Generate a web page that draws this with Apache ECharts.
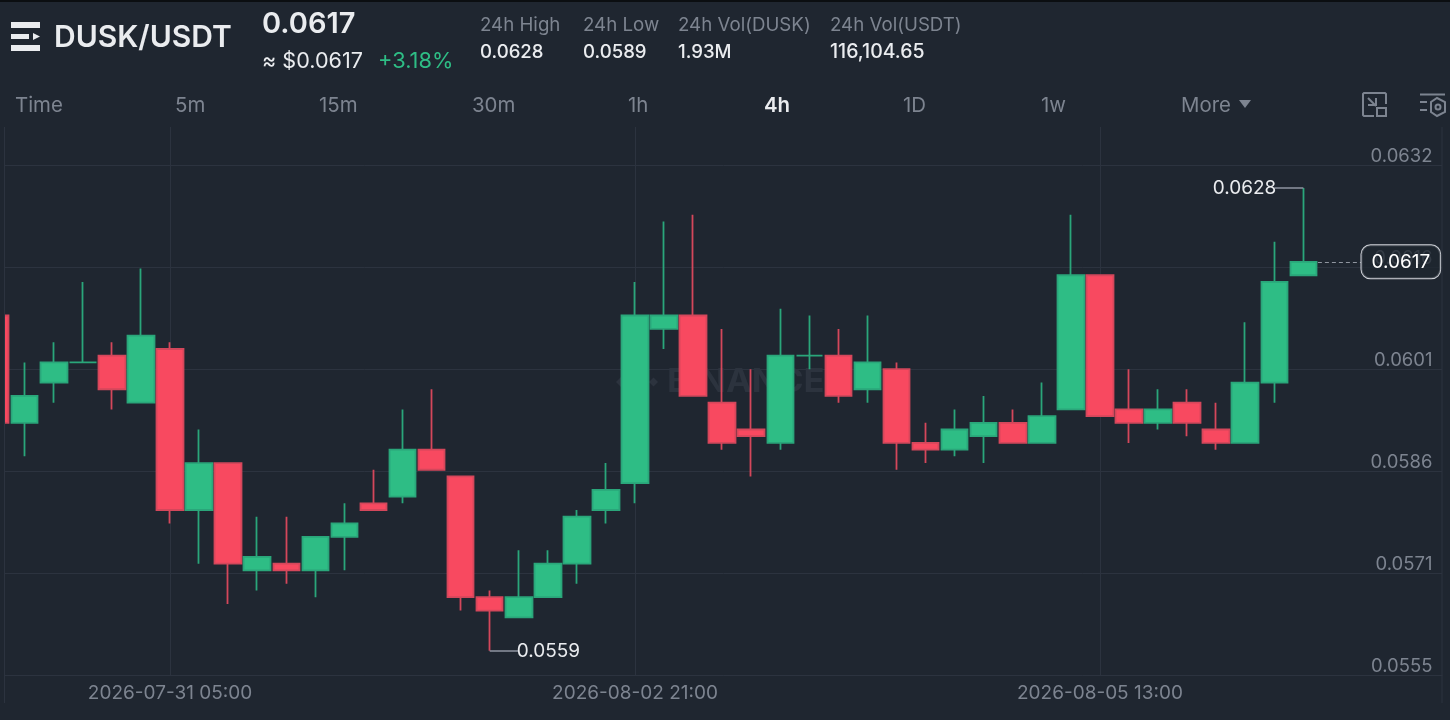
<!DOCTYPE html>
<html>
<head>
<meta charset="utf-8">
<style>html,body{margin:0;padding:0;background:#1f2630}#c{width:1450px;height:720px}</style>
<script src="https://cdn.jsdelivr.net/npm/echarts@6/dist/echarts.min.js"></script>
</head>
<body>
<div id="c"></div>
<script>
var opens  = [.0609,.0593,.0599,.0602,.0603,.0596,.0604,.0580,.0587,.0571,.0572,.0571,.0576,.0581,.0582,.0589,.0585,.0567,.0564,.0567,.0572,.0580,.0584,.0607,.0609,.0596,.0592,.0590,.0603,.0603,.0598,.0601,.0590,.0589,.0591,.0593,.0590,.0595,.0615,.0595,.0593,.0596,.0592,.0590,.0599,.0615];
var closes = [.0593,.0597,.0602,.0602,.0598,.0606,.0580,.0587,.0572,.0573,.0571,.0576,.0578,.0580,.0589,.0586,.0567,.0565,.0567,.0572,.0579,.0583,.0609,.0609,.0597,.0590,.0591,.0603,.0603,.0597,.0602,.0590,.0589,.0592,.0593,.0590,.0594,.0615,.0594,.0593,.0595,.0593,.0590,.0599,.0614,.0617];
var lows   = [.0593,.0588,.0596,.0602,.0595,.0596,.0578,.0572,.0566,.0568,.0569,.0567,.0571,.0580,.0581,.0586,.0565,.0559,.0564,.0567,.0569,.0578,.0581,.0604,.0597,.0589,.0585,.0589,.0601,.0596,.0596,.0586,.0587,.0588,.0587,.0590,.0590,.0595,.0594,.0590,.0592,.0591,.0589,.0590,.0596,.0615];
var highs  = [.0609,.0602,.0605,.0614,.0605,.0616,.0605,.0592,.0587,.0579,.0579,.0576,.0581,.0586,.0595,.0598,.0585,.0568,.0574,.0574,.0580,.0587,.0614,.0623,.0624,.0607,.0601,.0610,.0609,.0607,.0609,.0602,.0593,.0595,.0597,.0595,.0599,.0624,.0615,.0601,.0598,.0598,.0596,.0608,.0620,.0628];
var yTickValues = [.05554,.05706,.05858,.0601,.06162,.06314];
var yTickLabels = ['0.0555','0.0571','0.0586','0.0601','0.0616','0.0632'];
var xTickTimes = ['2026-07-31T05:00','2026-08-02T21:00','2026-08-05T13:00'];
var lastPrice = 0.0617, highPrice = 0.0628, lowPrice = 0.0559;
var firstCandle = '2026-07-30T05:00';
var viewStart = '2026-07-30T06:17', viewEnd = '2026-08-07T12:05';
var tabs = ['Time','5m','15m','30m','1h','4h','1D','1w','More'];
var tabX = [15,175,319,472,628,764,903,1041,1181];
var statNames = ['24h High','24h Low','24h Vol(DUSK)','24h Vol(USDT)'];
var statValues = ['0.0628','0.0589','1.93M','116,104.65'];
var statX = [480,583,678,830];

var FONT = 'Inter, "Noto Sans", sans-serif';
var BG = '#1f2630', GRID = '#2c333f', GREY = '#7d8490', WHITE = '#eaecef', UP = '#2ebd85', DOWN = '#f84960', MARK = '#2c333e';
var H4 = 4 * 3600e3;
function ms(s){ return new Date(s).getTime(); }
var t0 = ms(firstCandle);
function T(i){ return t0 + i * H4; }
var candles = opens.map(function(o,i){ return [T(i), o, closes[i], lows[i], highs[i]]; });

function txt(x,y,t,size,fill,weight,align){
  return {type:'text',x:x,y:y,silent:true,style:{text:t,fontFamily:FONT,fontSize:size,fill:fill,fontWeight:weight||400,align:align||'left',verticalAlign:'middle'}};
}
function rect(x,y,w,h,fill,z){ return {type:'rect',silent:true,z:z||1,shape:{x:x,y:y,width:w,height:h},style:{fill:fill}}; }
function line(x1,y1,x2,y2,c,w){ return {type:'line',silent:true,shape:{x1:x1,y1:y1,x2:x2,y2:y2},style:{stroke:c,lineWidth:w||1}}; }
function poly(pts,fill,z){ return {type:'polygon',silent:true,z:z||1,shape:{points:pts},style:{fill:fill}}; }

var graphics = [
  rect(0,0,1450,2,'#0b0e11'),
  rect(11,22,29,6,WHITE), rect(11,34,18,5,WHITE), poly([[33,33],[40,36.5],[33,40]],WHITE), rect(11,45,29,6,WHITE),
  txt(54,38,'DUSK/USDT',30,WHITE,600),
  txt(262,24,'0.0617',29,WHITE,600),
  txt(262,61,'≈ $0.0617',21.6,WHITE,400),
  txt(378,61,'+3.18%',21.8,UP,400),
  rect(0,127,4,548,BG,10),
  poly([[1239,100],[1251,100],[1245,108]],GREY)
];
statNames.forEach(function(n,i){
  graphics.push(txt(statX[i],25,n,18.7,GREY,400));
  graphics.push(txt(statX[i],52.5,statValues[i],i===3?19.5:18.6,WHITE,500));
});
tabs.forEach(function(n,i){
  graphics.push(txt(tabX[i],106,n,20.4,n==='4h'?WHITE:GREY,n==='4h'?600:400));
});
graphics.push(
  {type:'polyline',silent:true,shape:{points:[[1376,93],[1364,93],[1363,94],[1363,115],[1364,116],[1374,116]]},style:{stroke:GREY,lineWidth:2,fill:null}},
  {type:'polyline',silent:true,shape:{points:[[1376,93],[1385,93],[1386,94],[1386,104]]},style:{stroke:GREY,lineWidth:2,fill:null}},
  {type:'rect',silent:true,shape:{x:1377,y:108,width:9,height:8},style:{stroke:GREY,lineWidth:2,fill:null}},
  line(1368,98,1376,106,GREY,2),
  {type:'polyline',silent:true,shape:{points:[[1368,105],[1376,105],[1376,98]]},style:{stroke:GREY,lineWidth:2,fill:null}},
  line(1420,94.5,1445,94.5,GREY,2), line(1420,102,1427,102,GREY,2), line(1420,110,1427,110,GREY,2),
  {type:'polygon',silent:true,shape:{points:[[1437,98],[1445,102],[1445,112],[1437,116],[1431,112],[1431,102]]},style:{stroke:GREY,lineWidth:2,fill:null}},
  {type:'circle',silent:true,shape:{cx:1438,cy:107,r:2.5},style:{stroke:GREY,lineWidth:2,fill:null}}
);
graphics.forEach(function(g){ if(g.z===undefined) g.z = 1; });
graphics.push(
  Object.assign(line(4.5,127,4.5,703,GRID),{z:11}),
  Object.assign(line(1442,127,1442,703,GRID),{z:11})
);
graphics.push(
  poly([[616,382],[621,377],[626,382],[621,387]],MARK,0),
  poly([[649,382],[653.5,377.5],[658,382],[653.5,386.5]],MARK,0),
  {type:'text',x:667,y:382,scaleX:1.08,z:0,silent:true,style:{text:'BINANCE',fontFamily:FONT,fontSize:32,fontWeight:700,fill:MARK,align:'left',verticalAlign:'middle'}}
);

var chart = echarts.init(document.getElementById('c'), null, {width:1450,height:720});
chart.setOption({
  animation:false,
  backgroundColor:BG,
  textStyle:{fontFamily:FONT},
  graphic:{elements:graphics},
  grid:{left:5,right:8,top:127,bottom:45,containLabel:false},
  xAxis:{
    type:'time',min:ms(viewStart),max:ms(viewEnd),
    axisLine:{show:true,lineStyle:{color:GRID,width:1}},
    axisTick:{show:false,customValues:xTickTimes.map(ms)},
    splitLine:{show:true,lineStyle:{color:GRID,width:1}},
    axisLabel:{customValues:xTickTimes.map(ms),formatter:'{yyyy}-{MM}-{dd} {HH}:{mm}',color:GREY,fontSize:19,margin:9,fontFamily:FONT,hideOverlap:false,showMinLabel:true,showMaxLabel:true}
  },
  yAxis:{
    type:'value',position:'right',scale:true,min:0.05554,max:0.06371,
    axisLine:{show:false},
    axisTick:{show:false,customValues:yTickValues},
    splitLine:{show:true,lineStyle:{color:GRID,width:1}},
    axisLabel:{inside:true,customValues:yTickValues,margin:9.5,color:GREY,fontSize:18.5,fontFamily:FONT,verticalAlign:'bottom',lineHeight:18,
      formatter:function(v){
        for(var i=0;i<yTickValues.length;i++){ if(Math.abs(yTickValues[i]-v)<1e-7) return yTickLabels[i]; }
        return '';
      }}
  },
  series:[{
    type:'candlestick',
    barWidth:27,
    encode:{x:0,y:[1,2,3,4]},
    data:candles,
    itemStyle:{color:UP,color0:DOWN,borderColor:'#2aa67a',borderColor0:'#d4475b',borderWidth:1.8},
    markLine:{
      silent:true,symbol:'none',animation:false,
      data:[
        [{coord:[T(45)+H4/2,lastPrice],lineStyle:{color:'#9096a0',type:[4,3],width:1},
          label:{show:true,position:'end',distance:0,formatter:lastPrice.toFixed(4),color:'#fff',fontSize:19,fontFamily:FONT,backgroundColor:'rgba(31,38,48,0.78)',borderColor:'#cfd2d8',borderWidth:1,borderRadius:9,padding:[7,10,7,10]}},
         {coord:[T(47),lastPrice]}],
        [{coord:[T(45),highPrice],lineStyle:{color:'#8f95a0',type:'solid',width:1.5},
          label:{show:true,position:'end',distance:-2,formatter:highPrice.toFixed(4),color:WHITE,fontSize:19,fontFamily:FONT,padding:[4,0,0,0]}},
         {coord:[T(44),highPrice]}],
        [{coord:[T(17),lowPrice],lineStyle:{color:'#8f95a0',type:'solid',width:1.5},
          label:{show:true,position:'end',distance:-2,formatter:lowPrice.toFixed(4),color:WHITE,fontSize:19,fontFamily:FONT,padding:[4,0,0,0]}},
         {coord:[T(18),lowPrice]}]
      ]
    }
  }]
});
</script>
</body>
</html>
